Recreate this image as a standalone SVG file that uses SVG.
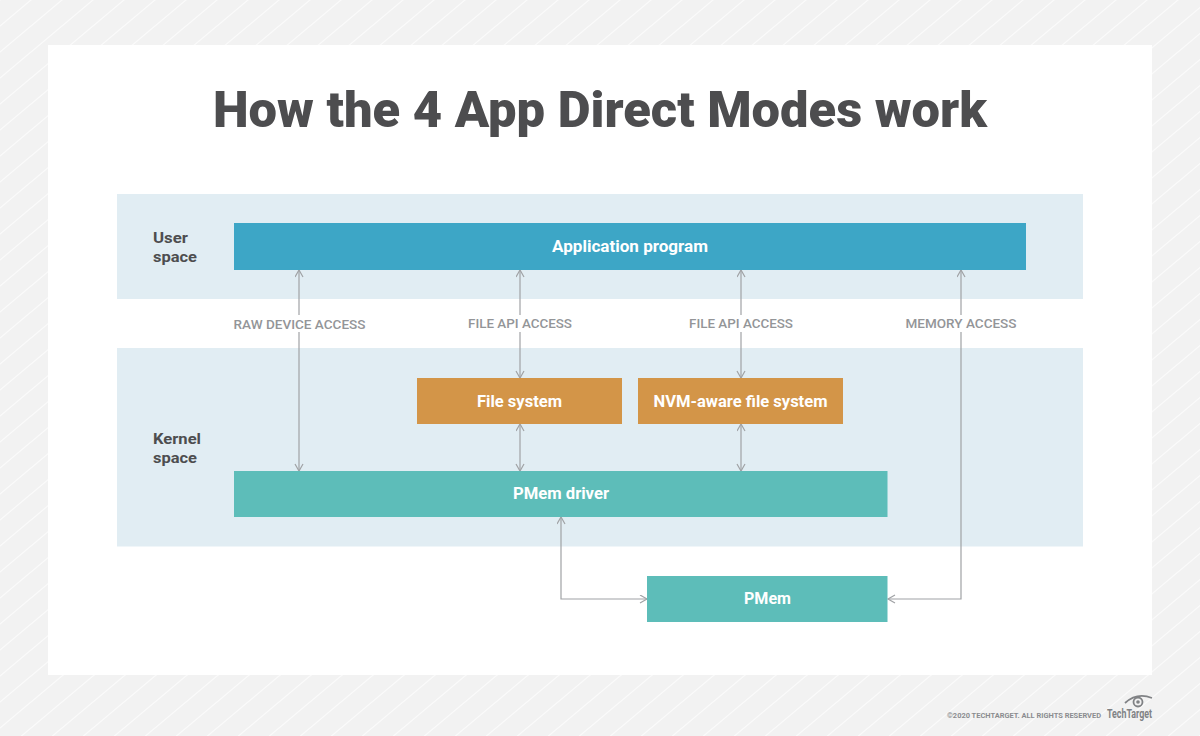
<svg xmlns="http://www.w3.org/2000/svg" width="1200" height="736" viewBox="0 0 1200 736">
<style>
text{font-family:"Roboto","Liberation Sans",sans-serif}
.t{font-weight:700;font-size:16.5px;fill:#fff;text-anchor:middle}
.s{font-weight:700;font-size:15.5px;fill:#4d4d4f}
.l{font-weight:500;font-size:12.5px;fill:#939598;text-anchor:middle}
.c{fill:none;stroke:#a0a2a5;stroke-width:1.2}
.band{fill:#e1edf3}
</style>
<defs>
<pattern id="st" width="31" height="26" patternUnits="userSpaceOnUse">
<rect width="31" height="26" fill="#f2f2f2"/>
<path d="M-4 29.4L35 -3.4" stroke="#fbfbfb" stroke-width="1.200"/>
<path d="M-4 3.4L4 -3.4M27 29.4L35 22.6" stroke="#fbfbfb" stroke-width="1.200"/>
</pattern>
<marker id="a" markerWidth="10" markerHeight="10" refX="8" refY="4.5" orient="auto-start-reverse" markerUnits="userSpaceOnUse"><path d="M1 0.5L8 4.5L1 8.5" fill="none" stroke="#a0a2a5" stroke-width="1.2"/></marker>
</defs>
<rect width="1200" height="736" fill="url(#st)"/>
<rect x="48" y="45" width="1104" height="630" fill="#fff"/>
<text x="600" y="127" text-anchor="middle" font-weight="900" font-size="50" fill="#4d4d4f" textLength="774" lengthAdjust="spacingAndGlyphs">How the 4 App Direct Modes work</text>
<rect class="band" x="117" y="194" width="966" height="105"/>
<rect class="band" x="117" y="348" width="966" height="198.500"/>
<g id="user-space"><text class="s" x="153" y="243" textLength="35" lengthAdjust="spacingAndGlyphs">User</text><text class="s" x="153" y="262" textLength="44" lengthAdjust="spacingAndGlyphs">space</text></g>
<g id="kernel-space"><text class="s" x="153" y="444" textLength="48" lengthAdjust="spacingAndGlyphs">Kernel</text><text class="s" x="153" y="463" textLength="44" lengthAdjust="spacingAndGlyphs">space</text></g>
<g id="connectors">
<path class="c" d="M299 270V315" marker-start="url(#a)"/>
<path class="c" d="M299 332V471" marker-end="url(#a)"/>
<path class="c" d="M520 270V315" marker-start="url(#a)"/>
<path class="c" d="M520 332V378" marker-end="url(#a)"/>
<path class="c" d="M741 270V315" marker-start="url(#a)"/>
<path class="c" d="M741 332V378" marker-end="url(#a)"/>
<path class="c" d="M961 270V315" marker-start="url(#a)"/>
<path class="c" d="M961 332V599H888" marker-end="url(#a)"/>
<path class="c" d="M520 424V471" marker-start="url(#a)" marker-end="url(#a)"/>
<path class="c" d="M741 424V471" marker-start="url(#a)" marker-end="url(#a)"/>
<path class="c" d="M561 517V599H647" marker-start="url(#a)" marker-end="url(#a)"/>
</g>
<g id="labels">
<text class="l" x="299.500" y="329" textLength="132" lengthAdjust="spacingAndGlyphs">RAW DEVICE ACCESS</text>
<text class="l" x="520" y="328" textLength="104" lengthAdjust="spacingAndGlyphs">FILE API ACCESS</text>
<text class="l" x="741" y="328" textLength="104" lengthAdjust="spacingAndGlyphs">FILE API ACCESS</text>
<text class="l" x="961" y="328" textLength="111" lengthAdjust="spacingAndGlyphs">MEMORY ACCESS</text>
</g>
<g id="app"><rect x="234" y="223" width="792" height="47" fill="#3da6c6"/><text class="t" x="630" y="252" textLength="156" lengthAdjust="spacingAndGlyphs">Application program</text></g>
<g id="fs"><rect x="417" y="378" width="205" height="46" fill="#d39548"/><text class="t" x="519.500" y="407" textLength="85" lengthAdjust="spacingAndGlyphs">File system</text></g>
<g id="nvm"><rect x="638" y="378" width="205" height="46" fill="#d39548"/><text class="t" x="740.500" y="407" textLength="174" lengthAdjust="spacingAndGlyphs">NVM-aware file system</text></g>
<g id="driver"><rect x="234" y="471" width="653.500" height="46" fill="#5dbdb9"/><text class="t" x="561" y="499" textLength="96" lengthAdjust="spacingAndGlyphs">PMem driver</text></g>
<g id="pmem"><rect x="647" y="576" width="240.500" height="46" fill="#5dbdb9"/><text class="t" x="767.500" y="604" textLength="47" lengthAdjust="spacingAndGlyphs">PMem</text></g>
<g id="footer">
<text x="1101" y="718" text-anchor="end" font-size="8" font-weight="700" fill="#8a8c8f" textLength="154" lengthAdjust="spacingAndGlyphs">©2020 TECHTARGET. ALL RIGHTS RESERVED</text>
<text x="1152" y="718" text-anchor="end" font-size="12" font-weight="700" fill="#808285" textLength="45" lengthAdjust="spacingAndGlyphs">TechTarget</text>
<path d="M1125 703Q1137 692 1152 698" fill="none" stroke="#808285" stroke-width="1.800"/>
<circle cx="1138" cy="702" r="4.500" fill="none" stroke="#808285" stroke-width="1.800"/><circle cx="1138" cy="702" r="1.800" fill="#808285"/>
</g>
</svg>
